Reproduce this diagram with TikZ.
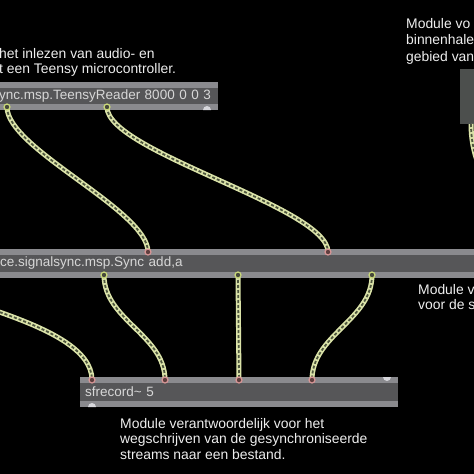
\documentclass[tikz,border=0pt]{standalone}
\usepackage{fontspec}
\setmainfont{Liberation Sans}

\definecolor{boxband}{RGB}{138,138,142}
\definecolor{boxdark}{RGB}{86,86,88}
\definecolor{boxtext}{RGB}{215,215,215}
\definecolor{cmttext}{RGB}{238,238,238}
\definecolor{remotegray}{RGB}{76,79,77}
\definecolor{cordlight}{RGB}{218,226,168}
\definecolor{corddark}{RGB}{78,86,62}
\definecolor{outring}{RGB}{200,215,120}
\definecolor{outfill}{RGB}{70,72,60}
\definecolor{inring}{RGB}{215,150,150}
\definecolor{infill}{RGB}{95,62,62}
\definecolor{knobgray}{RGB}{215,215,220}

\begin{document}
\begin{tikzpicture}
  [x=1pt,y=-1pt,
   box/.style={rectangle,anchor=west,inner xsep=5pt,inner ysep=0pt,align=left,
     fill=boxdark,text=boxtext,minimum height=28pt,font=\fontsize{13.5}{16}\selectfont,
     path picture={
       \fill[boxband] (path picture bounding box.north west) rectangle ([yshift=-6pt]path picture bounding box.north east);
       \fill[boxband] (path picture bounding box.south west) rectangle ([yshift=6pt]path picture bounding box.south east);}},
   comment/.style={anchor=north west,inner sep=0pt,align=left,text=cmttext,
     font=\fontsize{13.9}{15.5}\selectfont},
   cord/.style={draw=cordlight,line width=5pt,
     postaction={draw=corddark,line width=1.8pt,dash pattern=on 3pt off 2pt}},
   outlet/.style={draw=outring,fill=outfill,line width=1.2pt},
   inlet/.style={draw=inring,fill=infill,line width=1.2pt},
   knob/.style={fill=knobgray}]
  \useasboundingbox (0,0) rectangle (474,474);
  \fill[black] (0,0) rectangle (474,474);
  \clip (0,0) rectangle (474,474);

  \node[comment] (cmtreader) at (-1,48) {het inlezen van audio- en\\t een Teensy microcontroller.};
  \node[comment,font=\fontsize{13.9}{16.5}\selectfont] (cmtremote) at (406,18) {Module vo\\binnenhale\\gebied van};
  \node[comment] (cmtsync) at (418,284) {Module v\\voor de s};
  \node[comment] (cmtrec) at (120,418) {Module verantwoordelijk voor het\\wegschrijven van de gesynchroniseerde\\streams naar een bestand.};

  \node[box,text width=214pt] (reader) at (-6,96) {ync.msp.TeensyReader 8000 0 0 3};
  \node[box,text width=476pt,minimum height=29pt] (sync) at (-5,263.5) {ce.signalsync.msp.Sync add,a};
  \node[box,text width=308pt,minimum height=30pt] (rec) at (80,392) {sfrecord\textasciitilde\ 5};
  \node[fill=remotegray,minimum width=20pt,minimum height=55pt,anchor=north west,inner sep=0pt] (remote) at (460,69) {};

  \coordinate (ro1) at (7,107);
  \coordinate (ro2) at (107,107);
  \coordinate (si1) at (148,252);
  \coordinate (si2) at (328,252);
  \coordinate (so1) at (104,275);
  \coordinate (so2) at (238,275);
  \coordinate (so3) at (372,275);
  \coordinate (ri1) at (92,380);
  \coordinate (ri2) at (165,380);
  \coordinate (ri3) at (239,380);
  \coordinate (ri4) at (312,380);
  \coordinate (offleft) at (-80,275);
  \coordinate (remoteout) at (471,124);
  \coordinate (offright) at (495,200);

  \foreach \from/\to/\k in {ro1/si1/42, ro2/si2/45, so1/ri2/45, so2/ri3/0, so3/ri4/45}
    \draw[cord] (\from) .. controls +(0,\k) and +(0,-\k) .. (\to);
  \draw[cord] (offleft) .. controls +(0,25) and +(0,-60) .. (ri1);
  \draw[cord] (remoteout) .. controls +(0,30) and +(-13,-25) .. (offright);

  \foreach \p in {ro1,ro2,so1,so2,so3}
    \filldraw[outlet] (\p) circle (3pt);
  \foreach \p in {si1,si2,ri1,ri2,ri3,ri4}
    \filldraw[inlet] (\p) circle (3pt);

  \fill[knob] (203,110) arc[start angle=180,end angle=0,radius=4pt] -- cycle;
  \fill[knob] (383,377) arc[start angle=180,end angle=360,radius=4pt] -- cycle;
  \fill[knob] (88,407) arc[start angle=180,end angle=0,radius=4pt] -- cycle;

\end{tikzpicture}
\end{document}
